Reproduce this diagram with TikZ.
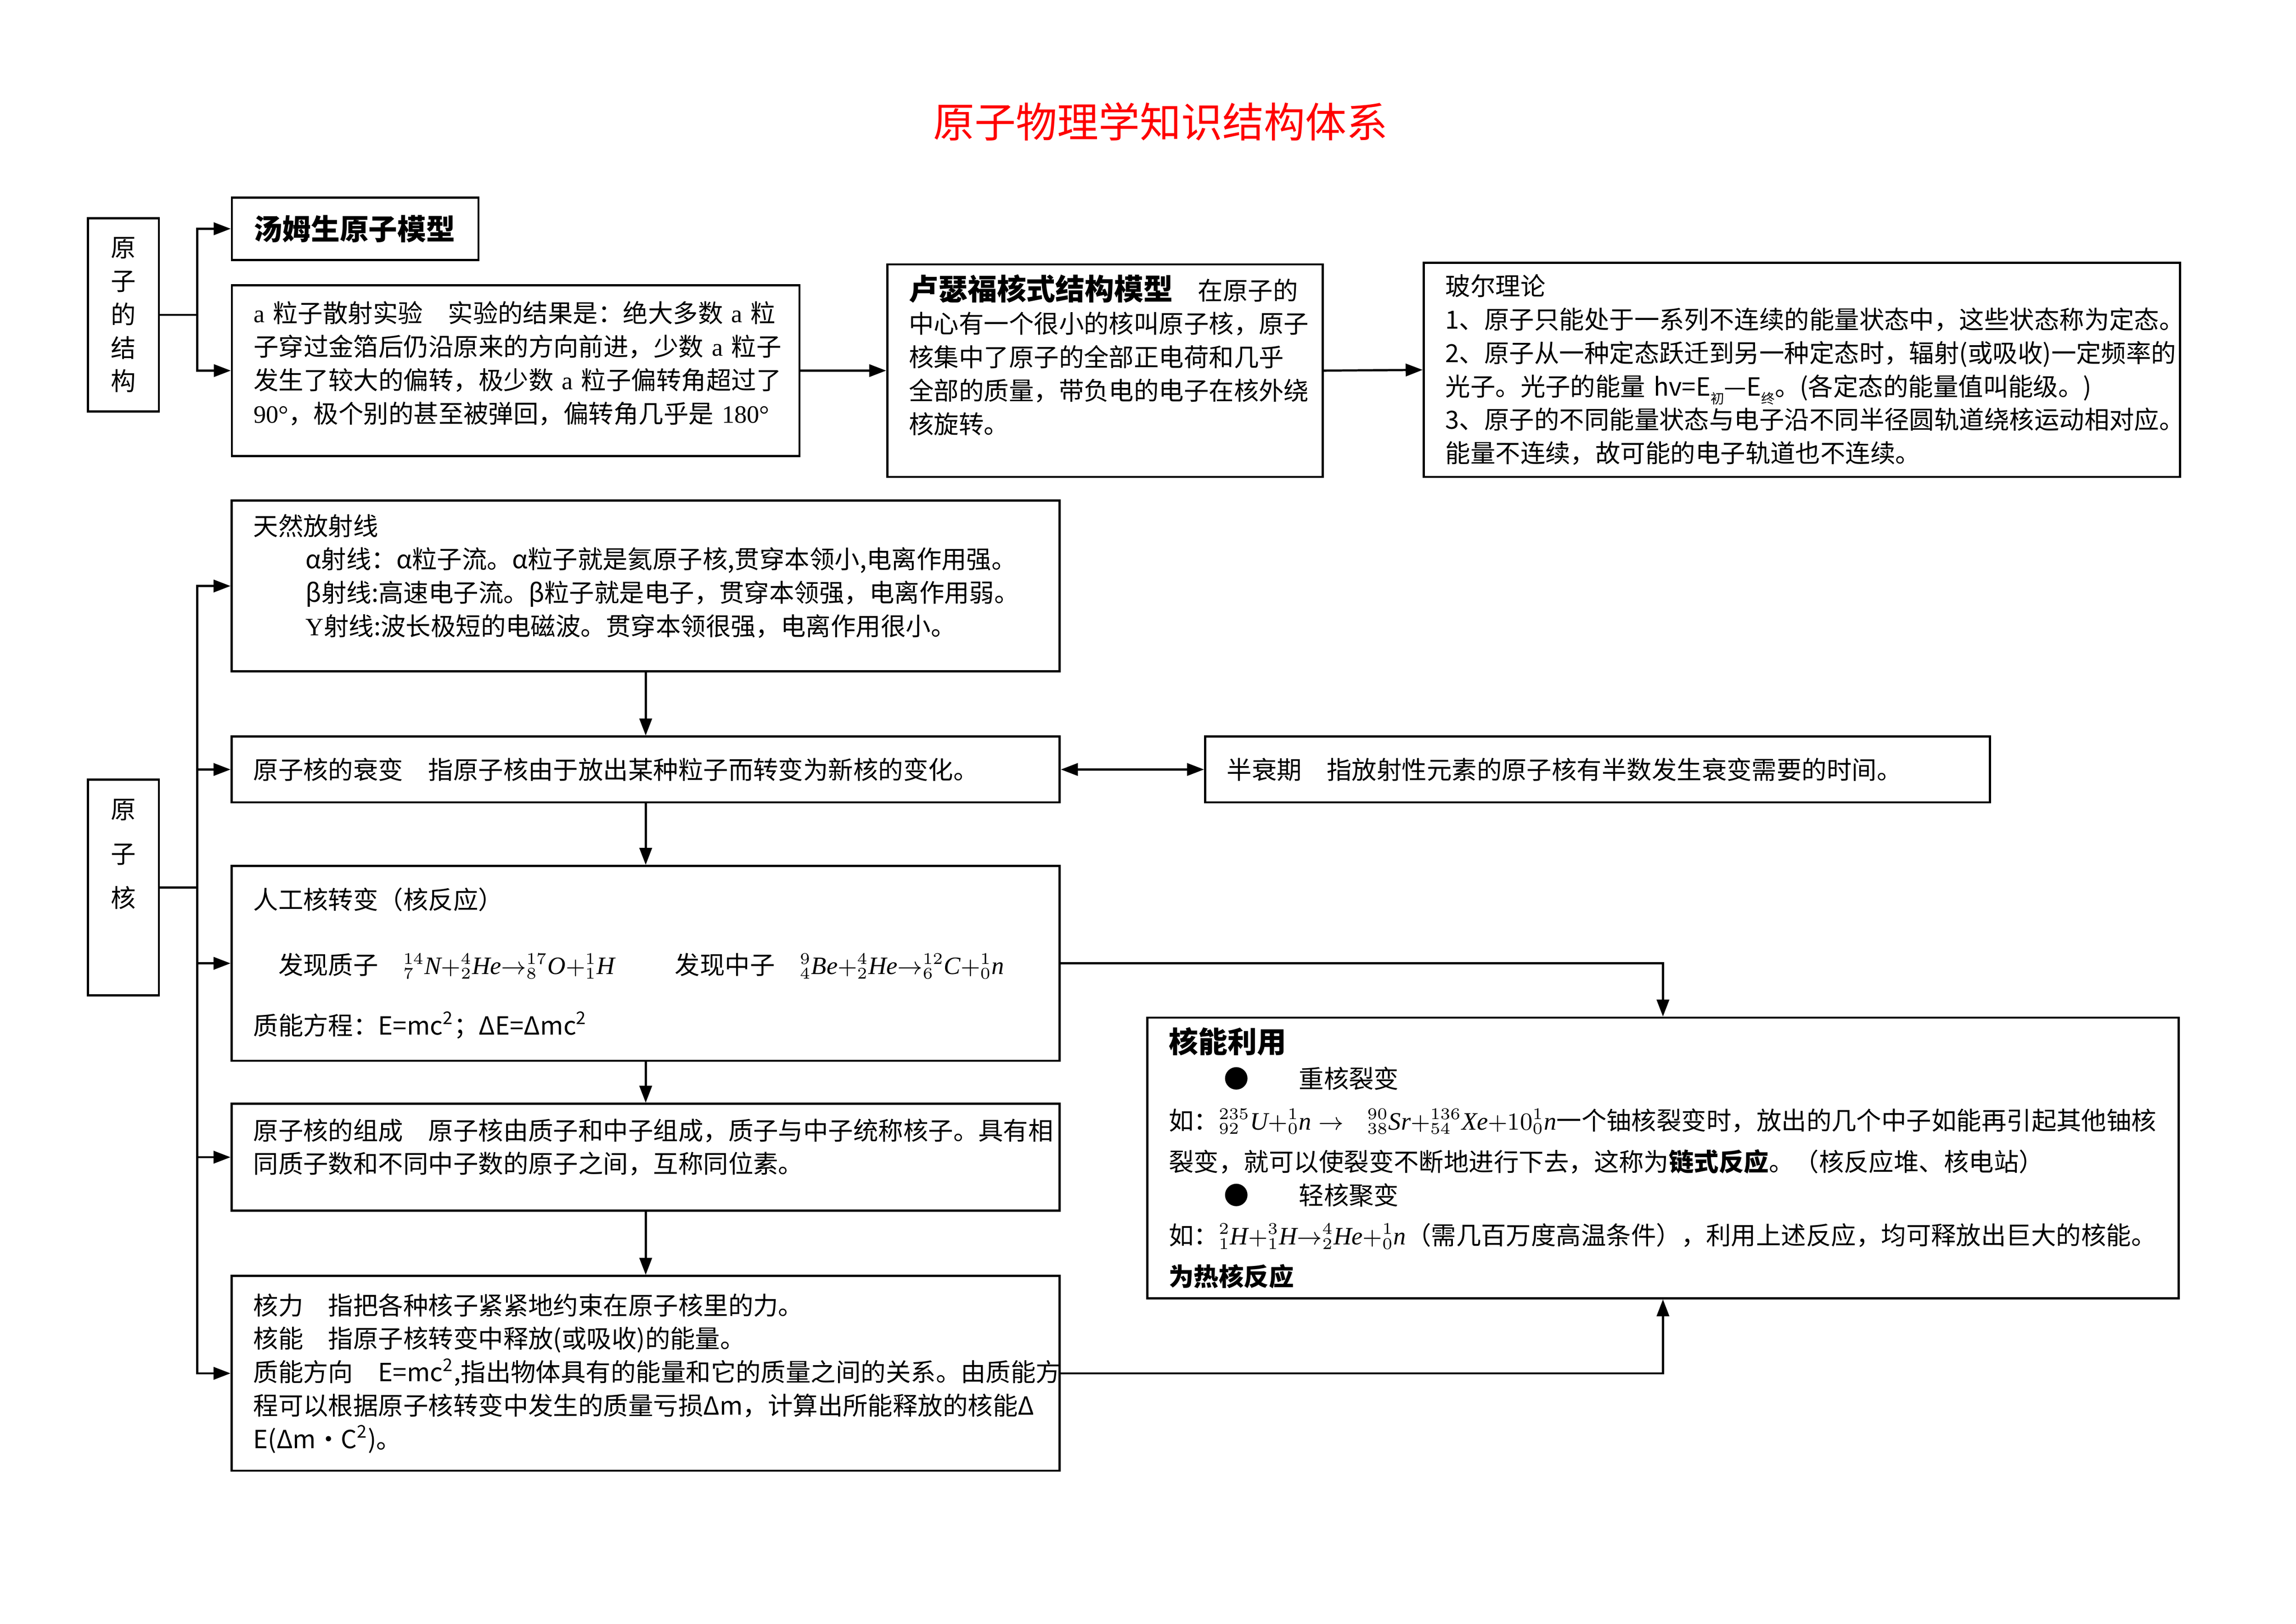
\documentclass[tikz,border=0pt]{standalone}
\usepackage{fontspec}
\setmainfont{Liberation Serif}
\newfontfamily\cjk{Noto Sans CJK SC}
\usetikzlibrary{arrows.meta}
\binoppenalty=10000
\relpenalty=10000
\hbadness=10000
\newcommand\latn[1]{{\rmfamily #1}}
\newcommand\lowsub[1]{\raisebox{-0.6ex}{\fontsize{5}{5}\selectfont #1}}
\newcommand\nuc[3]{{}^{#1}_{#2}\mathit{#3}}
\begin{document}
\begin{tikzpicture}[x=0.1922mm,y=-0.1922mm,
box/.style={draw, line width=0.8pt, inner xsep=2.8mm, inner ysep=0.5mm, align=left, font={\cjk\fontsize{9.2}{12.3}\selectfont}},
side/.style={draw, line width=0.8pt, align=center, minimum width=9.2mm, font={\cjk\fontsize{9.2}{12.3}\selectfont}},
arr/.style={line width=0.8pt, -{Triangle[length=2.2mm,width=1.6mm]}},
dbl/.style={line width=0.8pt, {Triangle[length=2.2mm,width=1.6mm]}-{Triangle[length=2.2mm,width=1.6mm]}}
]
\useasboundingbox (0,0) rectangle (1545,1093);

\node[text=red, font={\cjk\fontsize{15.2}{18}\selectfont}] (title) at (781,82) {原子物理学知识结构体系};

% structure of the atom
\node[side, minimum height=25mm] (struct) at (83,212) {原\\子\\的\\结\\构};
\node[box, minimum width=31.9mm, minimum height=8.1mm, text width=26.3mm] (thomson) at (239,154)
  {\bfseries\fontsize{10.6}{13}\selectfont 汤姆生原子模型};
\node[box, minimum width=73.4mm, minimum height=22.1mm, text width=67.8mm] (alpha) at (347,249.5)
  {\latn{a}~粒子散射实验　实验的结果是：绝大多数~\latn{a}~粒\\
   子穿过金箔后仍沿原来的方向前进，少数~\latn{a}~粒子\\
   发生了较大的偏转，极少数~\latn{a}~粒子偏转角超过了\\
   \latn{90°}，极个别的甚至被弹回，偏转角几乎是~\latn{180°}\\[-6pt]\mbox{}};
\node[box, minimum width=56.3mm, minimum height=27.5mm, text width=50.7mm] (ruth) at (743.5,249.5)
  {{\bfseries\fontsize{10.8}{13}\selectfont 卢瑟福核式结构模型}　在原子的\\
   中心有一个很小的核叫原子核，原子\\
   核集中了原子的全部正电荷和几乎\\
   全部的质量，带负电的电子在核外绕\\
   核旋转。\\[0pt]\mbox{}};
\node[box, minimum width=97.8mm, minimum height=27.7mm, text width=92.2mm] (bohr) at (1212.5,249)
  {玻尔理论\\
   1、原子只能处于一系列不连续的能量状态中，这些状态称为定态。\\
   2、原子从一种定态跃迁到另一种定态时，辐射(或吸收)一定频率的\\
   光子。光子的能量~hv=E\lowsub{初}—E\lowsub{终}。(各定态的能量值叫能级。)\\
   3、原子的不同能量状态与电子沿不同半径圆轨道绕核运动相对应。\\
   能量不连续，故可能的电子轨道也不连续。};

% the nucleus
\node[side, minimum height=27.9mm] (nucleus) at (83,597.5) {原\\[4pt]子\\[4pt]核\\[13pt]\mbox{}};
\node[box, minimum width=107.1mm, minimum height=22.1mm, text width=101.5mm] (natural) at (434.5,394.5)
  {天然放射线\\
   \hspace*{2.1em}α射线：α粒子流。α粒子就是氦原子核,贯穿本领小,电离作用强。\\
   \hspace*{2.1em}β射线:高速电子流。β粒子就是电子，贯穿本领强，电离作用弱。\\
   \hspace*{2.1em}\latn{Υ}射线:波长极短的电磁波。贯穿本领很强，电离作用很小。\\[-4pt]\mbox{}};
\node[box, minimum width=107.1mm, minimum height=8.5mm, text width=101.5mm] (decay) at (434.5,518)
  {原子核的衰变　指原子核由于放出某种粒子而转变为新核的变化。};
\node[box, minimum width=101.5mm, minimum height=8.5mm, text width=95.9mm] (halflife) at (1075,518)
  {半衰期　指放射性元素的原子核有半数发生衰变需要的时间。};
\node[box, minimum width=107.1mm, minimum height=25.2mm, text width=101.5mm] (artificial) at (434.5,648.5)
  {人工核转变（核反应）\\[11.7pt]
   \hspace*{1em}\makebox[51.3mm][l]{发现质子\hspace{1em}$\nuc{14}{7}{N}{+}\nuc{4}{2}{He}{\rightarrow}\nuc{17}{8}{O}{+}\nuc{1}{1}{H}$}%
   发现中子\hspace{1em}$\nuc{9}{4}{Be}{+}\nuc{4}{2}{He}{\rightarrow}\nuc{12}{6}{C}{+}\nuc{1}{0}{n}$\\[10pt]
   质能方程：E=mc\textsuperscript{2}；ΔE=Δmc\textsuperscript{2}};
\node[box, minimum width=107.1mm, minimum height=13.8mm, text width=101.5mm] (composition) at (434.5,779)
  {原子核的组成　原子核由质子和中子组成，质子与中子统称核子。具有相\\
   同质子数和不同中子数的原子之间，互称同位素。\\[-4pt]\mbox{}};
\node[box, minimum width=107.1mm, minimum height=25.2mm, text width=101.5mm] (force) at (434.5,924.5)
  {核力　指把各种核子紧紧地约束在原子核里的力。\\
   核能　指原子核转变中释放(或吸收)的能量。\\
   质能方向　E=mc\textsuperscript{2},指出物体具有的能量和它的质量之间的关系。由质能方\\
   程可以根据原子核转变中发生的质量亏损Δm，计算出所能释放的核能Δ\\
   E(Δm•C\textsuperscript{2})。};
\node[box, minimum width=133.4mm, minimum height=36.3mm, text width=127.8mm] (utilize) at (1119,779.5)
  {{\bfseries\fontsize{10.8}{13}\selectfont 核能利用}\\[0.8pt]
   \hspace*{2.2em}●\hspace{2em}重核裂变\\[3pt]
   如：$\nuc{235}{92}{U}{+}\nuc{1}{0}{n}\rightarrow\ \ \nuc{90}{38}{Sr}{+}\nuc{136}{54}{Xe}{+}10\nuc{1}{0}{n}$一个铀核裂变时，放出的几个中子如能再引起其他铀核\\[3pt]
   裂变，就可以使裂变不断地进行下去，这称为\textbf{链式反应}。（核反应堆、核电站）\\
   \hspace*{2.2em}●\hspace{2em}轻核聚变\\[2.4pt]
   如：$\nuc{2}{1}{H}{+}\nuc{3}{1}{H}{\rightarrow}\nuc{4}{2}{He}{+}\nuc{1}{0}{n}$（需几百万度高温条件），利用上述反应，均可释放出巨大的核能。\\[3pt]
   \textbf{为热核反应}};

\draw[arr] (struct.east) -- ++(25,0) |- (thomson.west);
\draw[arr] (struct.east) -- ++(25,0) |- (alpha.west);
\draw[arr] (alpha.east) -- (ruth.west);
\draw[arr] (ruth.east) -- (bohr.west);

\foreach \b in {natural,decay,artificial,composition,force}
  \draw[arr] (nucleus.east) -- ++(25,0) |- (\b.west);
\draw[arr] (natural.south) -- (decay.north);
\draw[arr] (decay.south) -- (artificial.north);
\draw[arr] (artificial.south) -- (composition.north);
\draw[arr] (composition.south) -- (force.north);
\draw[dbl] (decay.east) -- (halflife.west);
\draw[arr] (artificial.east) -| (utilize.north);
\draw[arr] (force.east) -| (utilize.south);
\end{tikzpicture}
\end{document}
